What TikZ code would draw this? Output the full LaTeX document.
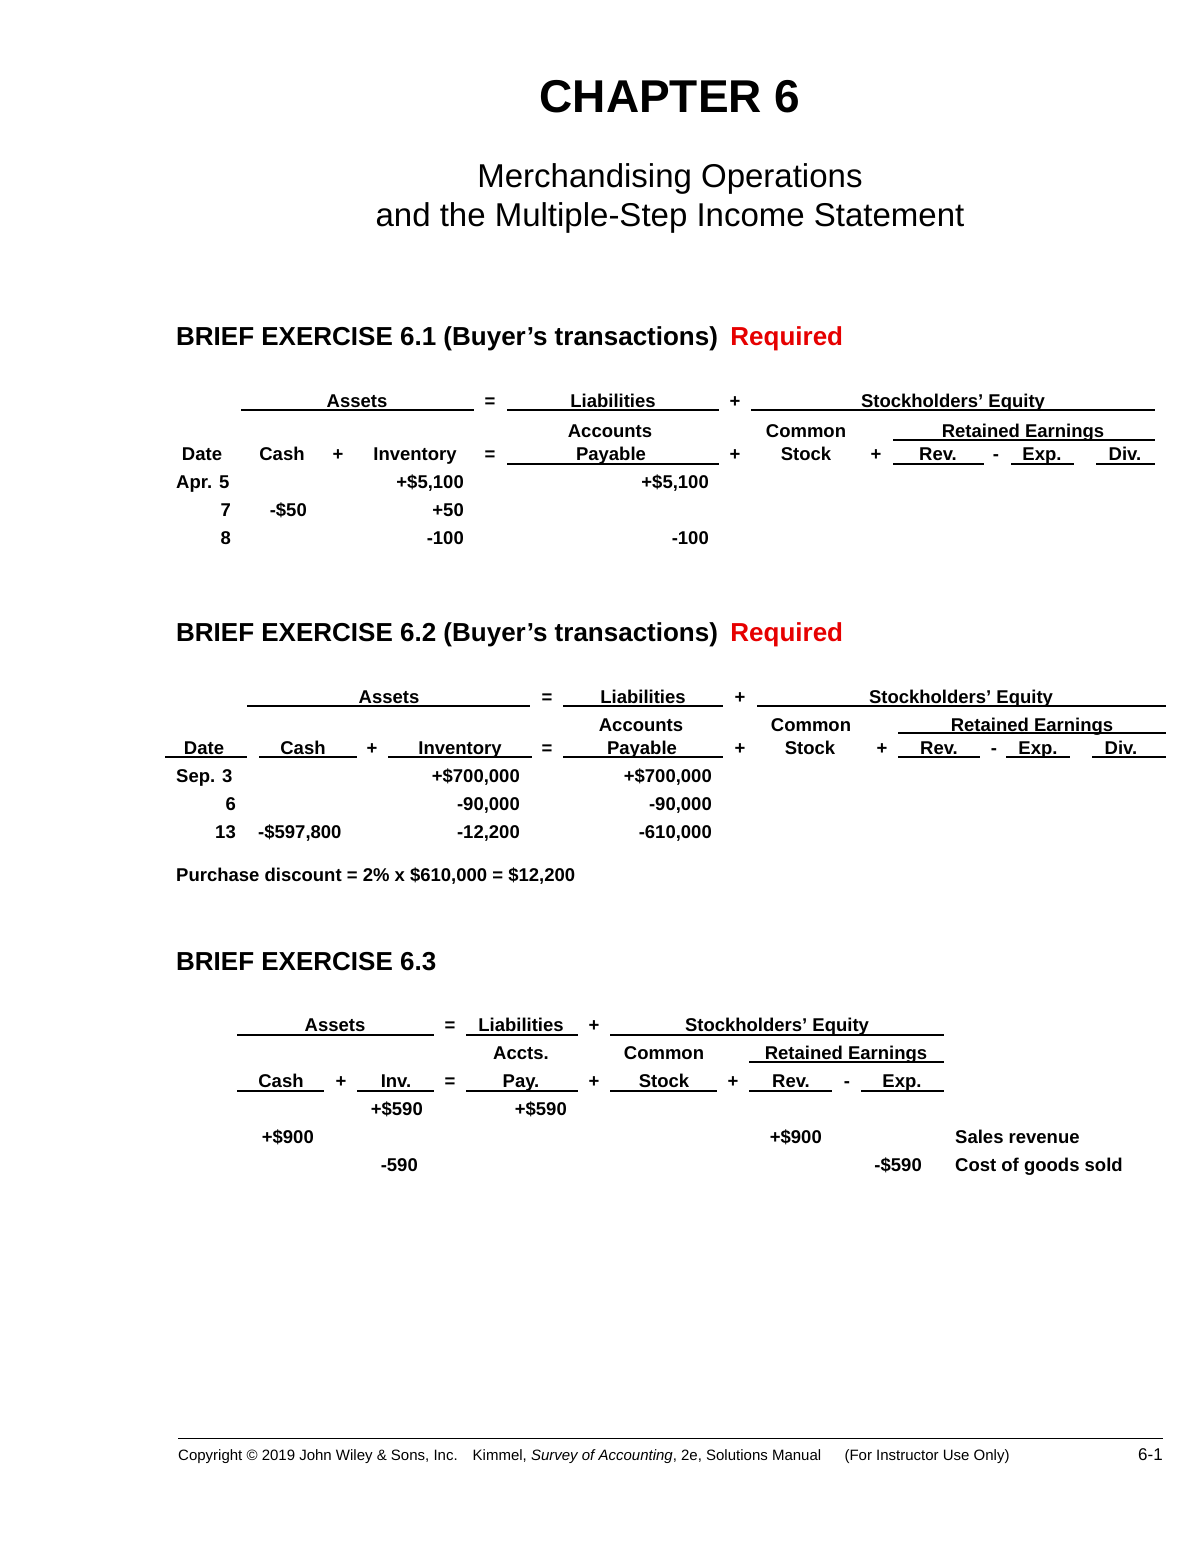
\documentclass[tikz,border=0pt]{standalone}
\usepackage{fontspec}
\setmainfont{Liberation Sans}
\usetikzlibrary{positioning}
\definecolor{reqred}{RGB}{230,0,0}
\newcommand{\tabfont}{\fontsize{18.5}{22}\selectfont\bfseries}
\tikzset{
  tx/.style={font=\tabfont, inner sep=0pt, anchor=base},
  txr/.style={tx, anchor=base east},
  txl/.style={tx, anchor=base west},
  head/.style={font=\fontsize{26}{30}\selectfont\bfseries, inner sep=0pt, anchor=base west},
  rule/.style={line width=1.3pt},
}
\begin{document}
\begin{tikzpicture}[x=1pt, y=-1pt]
    \useasboundingbox (0,0) rectangle (1200,1553);
    % title
    \node[inner sep=0pt, anchor=base, font=\fontsize{46}{50}\selectfont\bfseries] (title) at (670,112) {CHAPTER 6};
    \node[inner sep=0pt, anchor=base, font=\fontsize{33}{38}\selectfont] (sub1) at (670,187) {Merchandising Operations};
    \node[inner sep=0pt, anchor=base, font=\fontsize{33}{38}\selectfont] (sub2) at (670,226) {and the Multiple-Step Income Statement};

    % brief exercise 6.1
    \node[head] (be1) at (176,345) {BRIEF EXERCISE 6.1 (Buyer’s transactions)};
    \node[head, text=reqred, right=12pt of be1.base east, anchor=base west] (req1) {Required};
    \foreach \xa/\xb in {241/474, 507/719, 751/1155} \draw[rule] (\xa,410) -- (\xb,410);
    \draw[rule] (893,440) -- (1155,440);
    \foreach \xa/\xb in {507/719, 893/984, 1011/1074, 1096/1155} \draw[rule] (\xa,464) -- (\xb,464);
    \node[tx] (a1) at (357,407) {Assets};
    \node[tx] (a1eq) at (490,407) {=};
    \node[tx] (a1lia) at (613,407) {Liabilities};
    \node[tx] (a1pl) at (735,407) {+};
    \node[tx] (a1se) at (953,407) {Stockholders' Equity};
    \node[tx] (a1acc) at (610,437) {Accounts};
    \node[tx] (a1com) at (806,437) {Common};
    \node[tx] (a1re) at (1023,437) {Retained Earnings};
    \foreach \x/\t [count=\i] in {202/Date, 282/Cash, 338/+, 415/Inventory, 490/=, 611/Payable, 735/+, 806/Stock, 876/+, 938/Rev., 996/-, 1042/Exp., 1125/Div.}
      \node[tx] (h1\i) at (\x,460) {\t};
    \node[txl] (d1a) at (176,488) {Apr. 5};
    \node[txr] (d1b) at (464,488) {+\$5,100};
    \node[txr] (d1c) at (709,488) {+\$5,100};
    \node[txr] (d2a) at (231,516) {7};
    \node[txr] (d2b) at (307,516) {-\$50};
    \node[txr] (d2c) at (464,516) {+50};
    \node[txr] (d3a) at (231,544) {8};
    \node[txr] (d3b) at (464,544) {-100};
    \node[txr] (d3c) at (709,544) {-100};

    % brief exercise 6.2
    \node[head] (be2) at (176,641) {BRIEF EXERCISE 6.2 (Buyer’s transactions)};
    \node[head, text=reqred, right=12pt of be2.base east, anchor=base west] (req2) {Required};
    \foreach \xa/\xb in {247/530, 563/723, 757/1166} \draw[rule] (\xa,706) -- (\xb,706);
    \draw[rule] (898,733) -- (1166,733);
    \foreach \xa/\xb in {165/247, 259/357, 388/532, 563/723, 898/980, 1006/1070, 1092/1166} \draw[rule] (\xa,757) -- (\xb,757);
    \node[tx] (b1) at (389,703) {Assets};
    \node[tx] (b1eq) at (547,703) {=};
    \node[tx] (b1lia) at (643,703) {Liabilities};
    \node[tx] (b1pl) at (740,703) {+};
    \node[tx] (b1se) at (961,703) {Stockholders' Equity};
    \node[tx] (b1acc) at (641,731) {Accounts};
    \node[tx] (b1com) at (811,731) {Common};
    \node[tx] (b1re) at (1032,731) {Retained Earnings};
    \foreach \x/\t [count=\i] in {204/Date, 303/Cash, 372/+, 460/Inventory, 547/=, 642/Payable, 740/+, 810/Stock, 882/+, 939/Rev., 994/-, 1038/Exp., 1121/Div.}
      \node[tx] (h2\i) at (\x,754) {\t};
    \node[txl] (e1a) at (176,782) {Sep. 3};
    \node[txr] (e1b) at (520,782) {+\$700,000};
    \node[txr] (e1c) at (712,782) {+\$700,000};
    \node[txr] (e2a) at (236,810) {6};
    \node[txr] (e2b) at (520,810) {-90,000};
    \node[txr] (e2c) at (712,810) {-90,000};
    \node[txr] (e3a) at (236,838) {13};
    \node[txl] (e3b) at (258,838) {-\$597,800};
    \node[txr] (e3c) at (520,838) {-12,200};
    \node[txr] (e3d) at (712,838) {-610,000};
    \node[txl] (disc) at (176,881) {Purchase discount = 2\% x \$610,000 = \$12,200};

    % brief exercise 6.3
    \node[head] (be3) at (176,970) {BRIEF EXERCISE 6.3};
    \foreach \xa/\xb in {237/434, 466/578, 610/944} \draw[rule] (\xa,1035) -- (\xb,1035);
    \draw[rule] (749,1062) -- (944,1062);
    \foreach \xa/\xb in {237/324, 357/434, 466/578, 610/717, 749/832, 861/944} \draw[rule] (\xa,1091) -- (\xb,1091);
    \node[tx] (c1) at (335,1031) {Assets};
    \node[tx] (c1eq) at (450,1031) {=};
    \node[tx] (c1lia) at (521,1031) {Liabilities};
    \node[tx] (c1pl) at (594,1031) {+};
    \node[tx] (c1se) at (777,1031) {Stockholders' Equity};
    \node[tx] (c1acc) at (521,1059) {Accts.};
    \node[tx] (c1com) at (664,1059) {Common};
    \node[tx] (c1re) at (846,1059) {Retained Earnings};
    \foreach \x/\t [count=\i] in {281/Cash, 341/+, 396/Inv., 450/=, 521/Pay., 594/+, 664/Stock, 733/+, 791/Rev., 847/-, 902/Exp.}
      \node[tx] (h3\i) at (\x,1087) {\t};
    \node[txr] (f1a) at (423,1115) {+\$590};
    \node[txr] (f1b) at (567,1115) {+\$590};
    \node[txr] (f2a) at (314,1143) {+\$900};
    \node[txr] (f2b) at (822,1143) {+\$900};
    \node[txl] (f2c) at (955,1143) {Sales revenue};
    \node[txr] (f3a) at (418,1171) {-590};
    \node[txr] (f3b) at (922,1171) {-\$590};
    \node[txl] (f3c) at (955,1171) {Cost of goods sold};

    % footer
    \draw[line width=0.8pt] (178,1438) -- (1163,1438);
    \node[inner sep=0pt, anchor=base west, font=\fontsize{15}{18}\selectfont] (foot) at (178,1460)
      {Copyright © 2019 John Wiley \& Sons, Inc.\quad Kimmel, \textit{Survey of Accounting}, 2e, Solutions Manual\quad\ \ (For Instructor Use Only)};
    \node[inner sep=0pt, anchor=base east, font=\fontsize{17}{20}\selectfont] (page) at (1163,1460) {6-1};
\end{tikzpicture}
\end{document}
